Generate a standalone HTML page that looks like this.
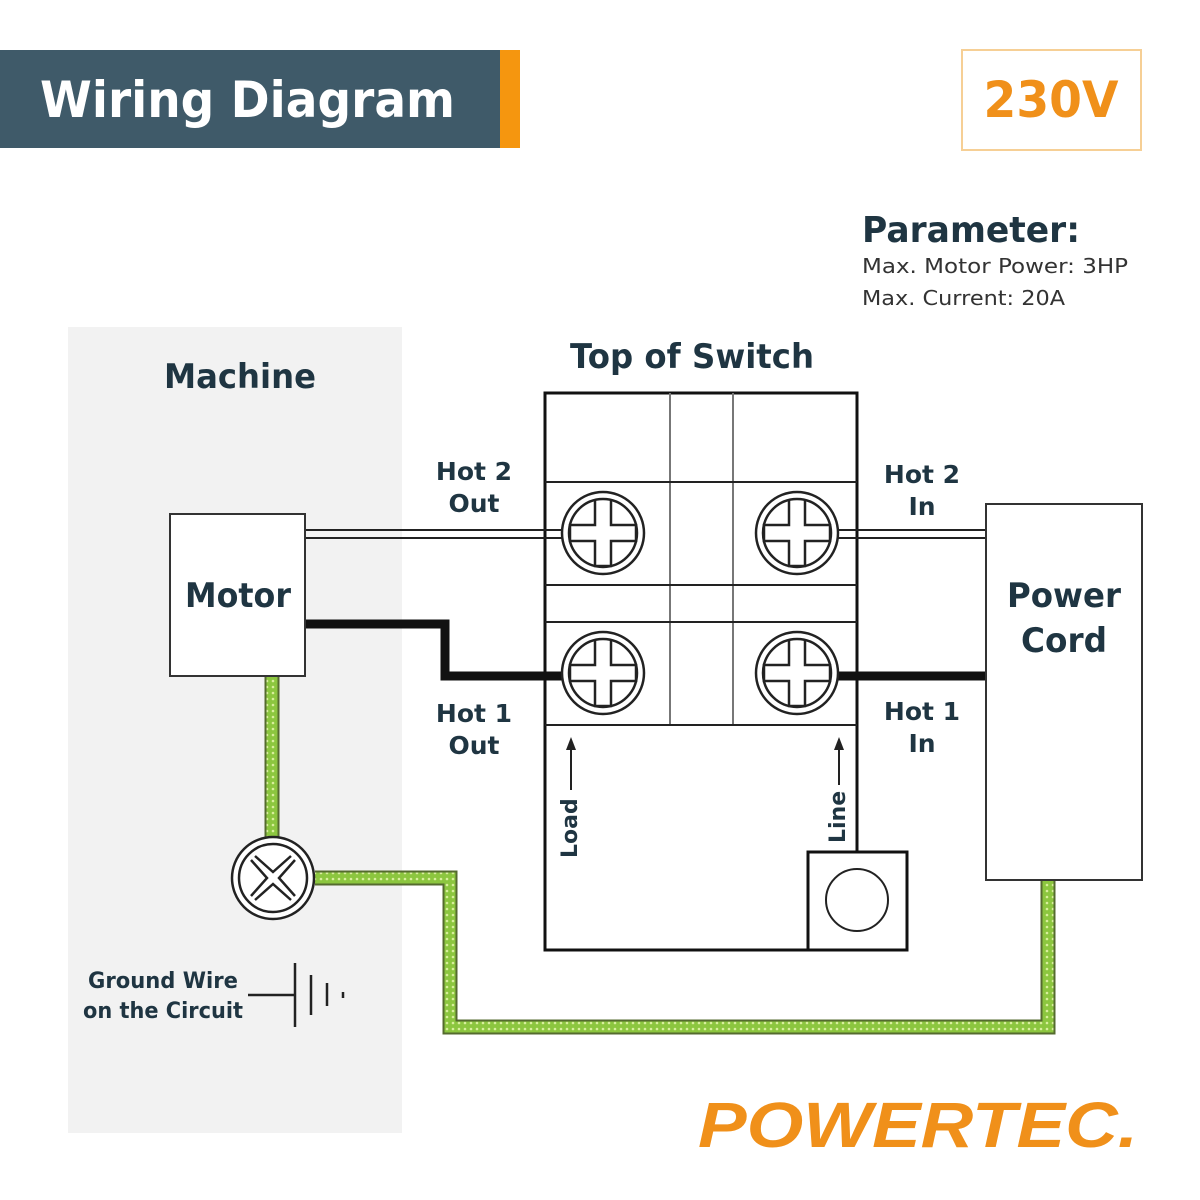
<!DOCTYPE html>
<html><head><style>html,body{margin:0;padding:0;background:#fff}svg{display:block}</style></head>
<body>
<svg width="1200" height="1200" viewBox="0 0 1200 1200" xmlns="http://www.w3.org/2000/svg" font-family="'DejaVu Sans','Liberation Sans',sans-serif">
<defs>
<pattern id="gp" width="6" height="6" patternUnits="userSpaceOnUse"><rect width="6" height="6" fill="#8cc63f"/><circle cx="3" cy="3" r="1.3" fill="#d8ef9c"/></pattern>
</defs>
<rect x="0" y="50" width="520" height="98" fill="#3f5a69"/>
<rect x="500" y="50" width="20" height="98" fill="#f5960f"/>
<text x="40" y="117" fill="#fff" font-size="50" font-weight="bold" textLength="415" lengthAdjust="spacingAndGlyphs">Wiring Diagram</text>
<rect x="962" y="50" width="179" height="100" fill="#fff" stroke="#f6cf95" stroke-width="2"/>
<text x="1051" y="117" fill="#f0901a" font-size="50" font-weight="bold" text-anchor="middle" textLength="135" lengthAdjust="spacingAndGlyphs">230V</text>
<text x="862" y="242" fill="#1f3542" font-size="36" font-weight="bold" textLength="218" lengthAdjust="spacingAndGlyphs">Parameter:</text>
<text x="862" y="273" fill="#333" font-size="20" textLength="266" lengthAdjust="spacingAndGlyphs">Max. Motor Power: 3HP</text>
<text x="862" y="305" fill="#333" font-size="20" textLength="203" lengthAdjust="spacingAndGlyphs">Max. Current: 20A</text>
<rect x="68" y="327" width="334" height="806" fill="#f2f2f2"/>
<text x="240" y="388" fill="#1f3542" font-size="34" font-weight="bold" text-anchor="middle" textLength="152" lengthAdjust="spacingAndGlyphs">Machine</text>
<text x="692" y="368" fill="#1f3542" font-size="34" font-weight="bold" text-anchor="middle" textLength="244" lengthAdjust="spacingAndGlyphs">Top of Switch</text>
<!-- green wires -->
<g fill="none" stroke="#556b2f" stroke-width="15">
<path d="M272 676 V845"/><path d="M315 878 H450 V1027 H1048 V880"/></g>
<g fill="none" stroke="url(#gp)" stroke-width="11">
<path d="M272 676 V845"/><path d="M315 878 H450 V1027 H1048 V880"/></g>
<!-- switch -->
<rect x="545" y="393" width="312" height="557" fill="#fff" stroke="#111" stroke-width="3"/>
<g stroke="#777" stroke-width="2"><line x1="670" y1="393" x2="670" y2="725"/><line x1="733" y1="393" x2="733" y2="725"/></g>
<g stroke="#222" stroke-width="2"><line x1="545" y1="482" x2="857" y2="482"/><line x1="545" y1="585" x2="857" y2="585"/><line x1="545" y1="622" x2="857" y2="622"/><line x1="545" y1="725" x2="857" y2="725"/></g>
<!-- wires -->
<g stroke="#222" stroke-width="2"><line x1="305" y1="530" x2="562" y2="530"/><line x1="305" y1="538" x2="562" y2="538"/><line x1="838" y1="530" x2="986" y2="530"/><line x1="838" y1="538" x2="986" y2="538"/></g>
<path d="M305 624 H445 V676 H562" fill="none" stroke="#111" stroke-width="9"/>
<line x1="838" y1="676" x2="986" y2="676" stroke="#111" stroke-width="9"/>
<!-- screws -->
<g id="sc" fill="#fff" stroke="#222" stroke-width="2.5">
<circle cx="603" cy="533" r="41"/><circle cx="603" cy="533" r="34"/>
<path d="M595 500 V525 H570 V541 H595 V566 H611 V541 H636 V525 H611 V500" fill="none"/>
</g>
<use href="#sc" x="194"/><use href="#sc" y="140"/><use href="#sc" x="194" y="140"/>
<!-- motor -->
<rect x="170" y="514" width="135" height="162" fill="#fff" stroke="#333" stroke-width="2"/>
<text x="238" y="607" fill="#1f3542" font-size="34" font-weight="bold" text-anchor="middle" textLength="106" lengthAdjust="spacingAndGlyphs">Motor</text>
<!-- power cord -->
<rect x="986" y="504" width="156" height="376" fill="#fff" stroke="#333" stroke-width="2"/>
<text x="1064" y="607" fill="#1f3542" font-size="34" font-weight="bold" text-anchor="middle" textLength="114" lengthAdjust="spacingAndGlyphs">Power</text>
<text x="1064" y="652" fill="#1f3542" font-size="34" font-weight="bold" text-anchor="middle" textLength="86" lengthAdjust="spacingAndGlyphs">Cord</text>
<!-- labels -->
<g fill="#1f3542" font-size="25" font-weight="bold" text-anchor="middle">
<text x="474" y="480">Hot 2</text><text x="474" y="512">Out</text>
<text x="922" y="483">Hot 2</text><text x="922" y="515">In</text>
<text x="474" y="722">Hot 1</text><text x="474" y="754">Out</text>
<text x="922" y="720">Hot 1</text><text x="922" y="752">In</text>
</g>
<g fill="#1f3542" font-size="22" font-weight="bold">
<text transform="translate(577,858) rotate(-90)">Load</text>
<text transform="translate(845,843) rotate(-90)">Line</text>
</g>
<g stroke="#222" stroke-width="2"><line x1="571" y1="744" x2="571" y2="790"/><line x1="839" y1="744" x2="839" y2="785"/></g>
<g fill="#222"><path d="M571 737 L566 750 L576 750Z"/><path d="M839 737 L834 750 L844 750Z"/></g>
<rect x="808" y="852" width="99" height="98" fill="#fff" stroke="#111" stroke-width="3"/>
<circle cx="857" cy="900" r="31" fill="#fff" stroke="#222" stroke-width="2"/>
<!-- ground connector -->
<g fill="#fff" stroke="#222" stroke-width="2.5">
<circle cx="273" cy="878" r="41"/><circle cx="273" cy="878" r="34"/>
<path d="M255 856 L273 872 L291 856 M295 860 L279 878 L295 896 M291 900 L273 884 L255 900 M251 896 L267 878 L251 860" fill="none"/>
</g>
<g stroke="#222" stroke-width="2.5"><line x1="248" y1="995" x2="295" y2="995"/><line x1="295" y1="963" x2="295" y2="1027"/><line x1="311" y1="975" x2="311" y2="1015"/><line x1="327" y1="983" x2="327" y2="1006"/><line x1="343" y1="992" x2="343" y2="998"/></g>
<text x="163" y="988" fill="#1f3542" font-size="22" font-weight="bold" text-anchor="middle" textLength="150" lengthAdjust="spacingAndGlyphs">Ground Wire</text>
<text x="163" y="1018" fill="#1f3542" font-size="22" font-weight="bold" text-anchor="middle" textLength="160" lengthAdjust="spacingAndGlyphs">on the Circuit</text>
<text x="698" y="1147" fill="#f0901a" font-family="'Liberation Sans',sans-serif" font-size="64" font-weight="bold" font-style="italic" textLength="440" lengthAdjust="spacingAndGlyphs">POWERTEC.</text>
</svg>
</body></html>
